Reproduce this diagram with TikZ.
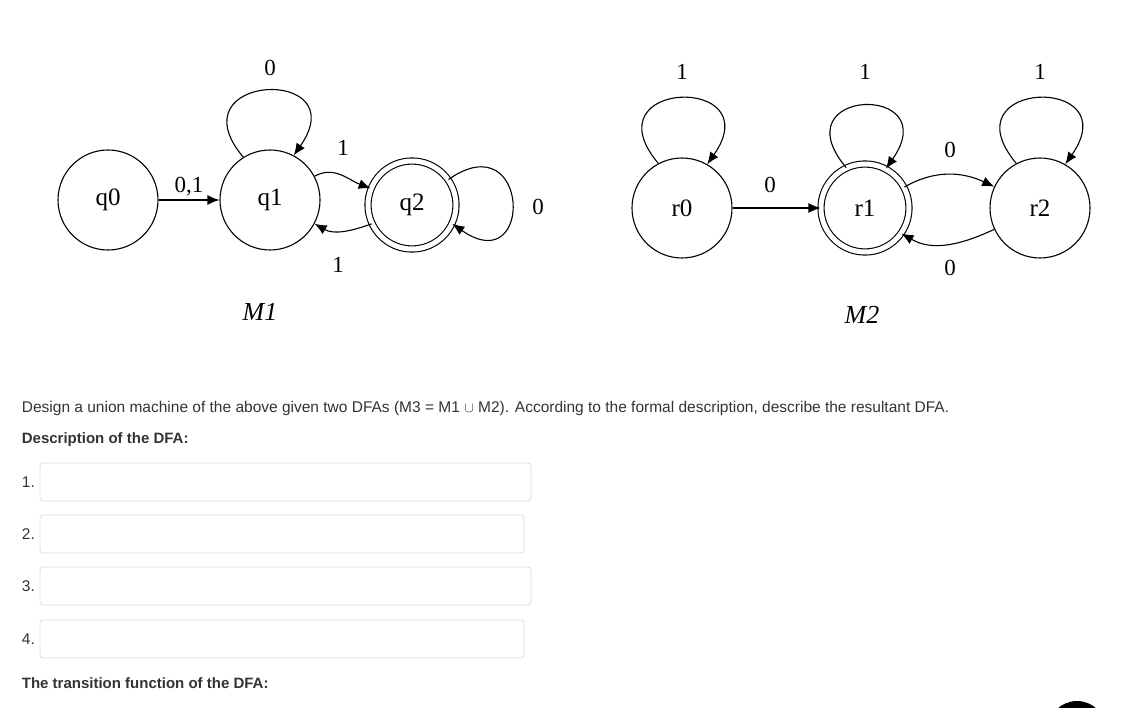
\documentclass[tikz,border=0pt]{standalone}
\usepackage{fontspec}
\setmainfont{Liberation Serif}
\newfontfamily\uisans{Liberation Sans}
\usetikzlibrary{arrows.meta}
\begin{document}
\begin{tikzpicture}[x=1pt,y=-1pt,line width=1.1pt,
  st/.style={draw,circle,minimum size=100pt,inner sep=0pt,font=\fontsize{25}{25}\selectfont},
  acc/.style={draw,circle,double,double distance=5pt,minimum size=88pt,inner sep=0pt,font=\fontsize{25}{25}\selectfont},
  tr/.style={-{Latex[length=12pt,width=10pt]},line width=1.1pt},
  lab/.style={font=\fontsize{23}{23}\selectfont},
  ui/.style={font=\uisans\fontsize{15.5}{15.5}\selectfont,anchor=west,text=black!80},
  uib/.style={font=\uisans\bfseries\fontsize{15}{15}\selectfont,anchor=west,text=black!80},
  ibox/.style={draw=black!15,rounded corners=3pt,line width=0.8pt}]
\useasboundingbox (0,0) rectangle (1132,708);
\node[st] (q0) at (108,200) {q0};
\node[st] (q1) at (270,200) {q1};
\node[acc] (q2) at (412,205) {q2};
\node[st] (r0) at (682,208) {r0};
\node[acc] (r1) at (865,208) {r1};
\node[st] (r2) at (1040,208) {r2};
% M1
\draw[tr] (q0) -- node[lab,above]{0,1} (q1);
\draw[tr] (q1.122) to[out=130,in=55,distance=110pt] (q1.62);
\node[lab] (l1) at (270,68) {0};
\draw[tr] (q1.28) to[out=30,in=160] (q2.158);
\node[lab] (l8) at (343,148) {1};
\draw[tr] (q2.205) to[out=200,in=-30] (q1.-28);
\node[lab] (l9) at (338,265) {1};
\draw[tr] (q2.35) to[out=35,in=-35,distance=100pt] (q2.-25);
\node[lab] (l2) at (538,207) {0};
\node[font=\itshape\fontsize{26}{26}\selectfont] (m1) at (260,312) {M1};
% M2
\draw[tr] (r0) -- (r1);
\node[lab] (l10) at (770,185) {0};
\draw[tr] (r0.118) to[out=130,in=55,distance=110pt] (r0.60);
\node[lab] (l3) at (682,72) {1};
\draw[tr] (r1.115) to[out=130,in=55,distance=105pt] (r1.62);
\node[lab] (l4) at (865,72) {1};
\draw[tr] (r2.118) to[out=130,in=55,distance=110pt] (r2.60);
\node[lab] (l5) at (1040,72) {1};
\draw[tr] (r1.28) to[out=30,in=155] (r2.155);
\node[lab] (l6) at (950,150) {0};
\draw[tr] (r2.205) to[out=205,in=-30] (r1.-35);
\node[lab] (l7) at (950,268) {0};
\node[font=\itshape\fontsize{26}{26}\selectfont] (m2) at (862,315) {M2};
% text
\node[ui] (t1) at (18,408) {Design a union machine of the above given two DFAs (M3 = M1 $\cup$ M2). According to the formal description, describe the resultant DFA.};
\node[uib] (t2) at (18,440) {Description of the DFA:};
\node[ui] (n1) at (18,482) {1.};
\draw[ibox] (40,463) rectangle (531,501);
\node[ui] (n2) at (18,534) {2.};
\draw[ibox] (40,515) rectangle (524,553);
\node[ui] (n3) at (18,586) {3.};
\draw[ibox] (40,567) rectangle (531,605);
\node[ui] (n4) at (18,639) {4.};
\draw[ibox] (40,620) rectangle (524,658);
\node[uib] (t3) at (18,683) {The transition function of the DFA:};
\begin{scope}
\clip (0,0) rectangle (1132,708);
\fill (1077,730) circle (29);
\end{scope}
\end{tikzpicture}
\end{document}
